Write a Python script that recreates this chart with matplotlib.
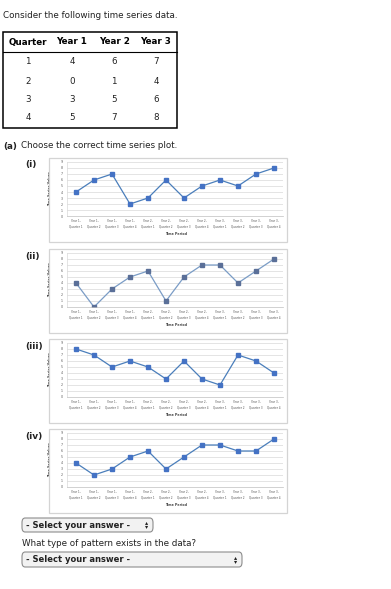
import matplotlib
matplotlib.use("Agg")
import matplotlib.pyplot as plt
from matplotlib.patches import Rectangle, FancyBboxPatch

# table data
quarters = [1, 2, 3, 4]
year1 = [4, 0, 3, 5]
year2 = [6, 1, 5, 7]
year3 = [7, 4, 6, 8]

# the four candidate plots
period_labels = [f"Year {y},\nQuarter {q}" for y in (1, 2, 3) for q in (1, 2, 3, 4)]
plot_i = [4, 6, 7, 2, 3, 6, 3, 5, 6, 5, 7, 8]
plot_ii = [4, 0, 3, 5, 6, 1, 5, 7, 7, 4, 6, 8]
plot_iii = [8, 7, 5, 6, 5, 3, 6, 3, 2, 7, 6, 4]
plot_iv = [4, 2, 3, 5, 6, 3, 5, 7, 7, 6, 6, 8]
plot_names = ["(i)", "(ii)", "(iii)", "(iv)"]

W, H = 391, 589
fig = plt.figure(figsize=(W / 100, H / 100), dpi=100)
fig.patch.set_facecolor("white")


def fx(x):
    return x / W


def fy(y):
    return 1 - y / H


def txt(x, y, s, **kw):
    kw.setdefault("fontsize", 6.3)
    kw.setdefault("va", "center")
    kw.setdefault("color", "#222222")
    fig.text(fx(x), fy(y), s, **kw)


txt(3, 15, "Consider the following time series data.")

# table
fig.patches.append(Rectangle((fx(3), fy(128)), fx(177) - fx(3), fy(32) - fy(128),
                             transform=fig.transFigure, fill=False, ec="black", lw=1.1))
fig.add_artist(plt.Line2D([fx(3), fx(177)], [fy(52), fy(52)], color="black", lw=0.8))
col_x = [28, 72, 114, 156]
for cx, head in zip(col_x, ["Quarter", "Year 1", "Year 2", "Year 3"]):
    txt(cx, 42, head, ha="center", fontweight="bold", color="black")
row_y = [62, 81, 100, 118]
for i, ry in enumerate(row_y):
    for cx, val in zip(col_x, [quarters[i], year1[i], year2[i], year3[i]]):
        txt(cx, ry, str(val), ha="center")

txt(3, 146, "(a)", fontweight="bold")
txt(21, 146, "Choose the correct time series plot.")

# charts
tops = [158, 249, 339, 429]
series = [plot_i, plot_ii, plot_iii, plot_iv]
line_cols = ["#4A7EBB", "#7A9CC6", "#4A7EBB", "#4A7EBB"]
mark_cols = ["#4472C4", "#5A6F98", "#4472C4", "#4472C4"]
for name, top, vals, lc, mc in zip(plot_names, tops, series, line_cols, mark_cols):
    txt(25, top + 7, name, fontweight="bold", fontsize=6.5)
    fig.patches.append(Rectangle((fx(49), fy(top + 84)), fx(287) - fx(49), fy(top) - fy(top + 84),
                                 transform=fig.transFigure, fill=False, ec="#D4D4D4", lw=0.9))
    ax = fig.add_axes([fx(67), fy(top + 58), fx(283) - fx(67), fy(top + 4) - fy(top + 58)])
    x = list(range(len(vals)))
    ax.plot(x, vals, color=lc, lw=0.9, marker="s", ms=2.7, mfc=mc, mec=mc)
    ax.set_xlim(-0.5, len(vals) - 0.5)
    ax.set_ylim(0, 9)
    ax.set_yticks(range(10))
    ax.set_xticks(x)
    ax.set_xticklabels(period_labels, fontsize=2.1, color="#595959", linespacing=1.6)
    ax.tick_params(axis="y", labelsize=2.3, labelcolor="#595959", length=0, pad=3)
    ax.tick_params(axis="x", length=0, pad=2)
    ax.grid(axis="y", color="#D9D9D9", lw=0.5)
    ax.set_axisbelow(True)
    for s in ("top", "right"):
        ax.spines[s].set_visible(False)
    ax.spines["left"].set_color("#D9D9D9")
    ax.spines["left"].set_linewidth(0.5)
    ax.spines["bottom"].set_color("#BFBFBF")
    ax.spines["bottom"].set_linewidth(0.5)
    ax.set_ylabel("Time Series Values", fontsize=2.3, fontweight="bold", color="#404040", labelpad=6)
    fig.text(fx(176), fy(top + 76), "Time Period", fontsize=2.3, fontweight="bold",
             color="#404040", ha="center", va="center")


def select_box(x0, y0, x1, y1, label):
    box = FancyBboxPatch((fx(x0), fy(y1)), fx(x1) - fx(x0), fy(y0) - fy(y1),
                         boxstyle="round,pad=0,rounding_size=0.008", transform=fig.transFigure,
                         fc="#F2F2F2", ec="#8C8C8C", lw=0.8)
    fig.patches.append(box)
    txt(x0 + 4, (y0 + y1) / 2, label, fontweight="bold", fontsize=6.0)
    txt(x1 - 6, (y0 + y1) / 2 - 2, "\u25b4", ha="center", fontsize=4.5)
    txt(x1 - 6, (y0 + y1) / 2 + 2, "\u25be", ha="center", fontsize=4.5)


select_box(22, 518, 153, 532, "- Select your answer -")
txt(22, 543, "What type of pattern exists in the data?")
select_box(22, 552, 242, 567, "- Select your answer -")

fig.savefig("out.png", dpi=100)
